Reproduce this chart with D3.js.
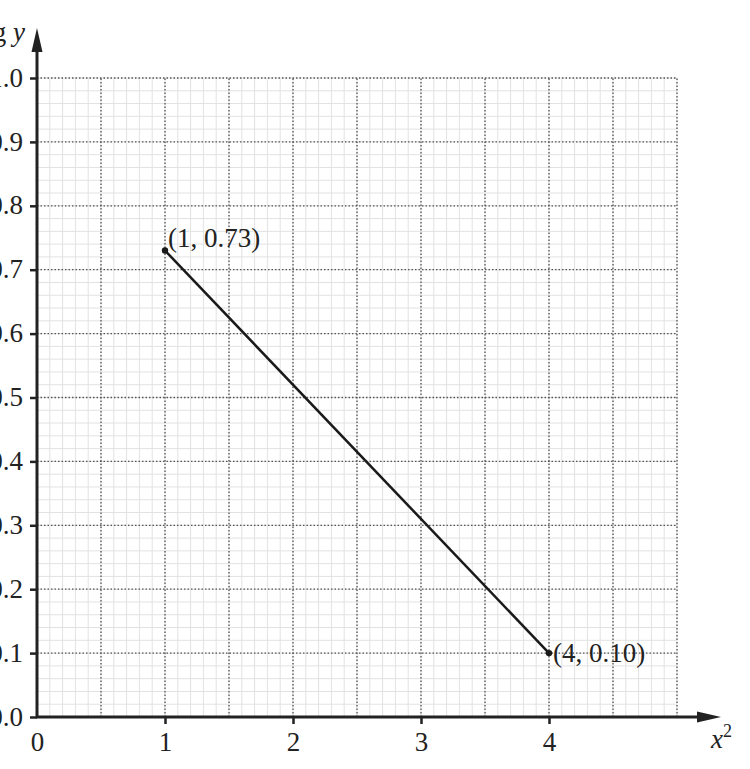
<!DOCTYPE html>
<html>
<head>
<meta charset="utf-8">
<script src="https://cdn.jsdelivr.net/npm/d3@7"></script>
<style>
  body { margin: 0; background: #fff; }
  svg { display: block; }
  text { font-family: "Liberation Serif", "Times New Roman", serif; fill: #222; }
</style>
</head>
<body>
<div id="chart"></div>
<script>
// values
var xTicks = [0, 1, 2, 3, 4];
var yTicks = [0, 0.1, 0.2, 0.3, 0.4, 0.5, 0.6, 0.7, 0.8, 0.9, 1.0];
var lineX = [1, 4];
var lineY = [0.73, 0.10];
var pointLabels = ["(1, 0.73)", "(4, 0.10)"];
var xMax = 5;
var yMax = 1;

var svgWidth = 750;
var svgHeight = 769;

var svg = d3.select("#chart").append("svg")
    .attr("width", svgWidth)
    .attr("height", svgHeight);

// scales, origin sits near the left edge so the leading "0" of y labels is cut off
var xScale = d3.scaleLinear().domain([0, xMax]).range([37, 677]);
var yScale = d3.scaleLinear().domain([0, yMax]).range([717, 78]);

// minor grid: every 0.1 in x, every 0.02 in y
var minorX = d3.range(0, 51).map(d => d / 10);
var minorY = d3.range(0, 51).map(d => d / 50);
var grid = svg.append("g");

grid.selectAll(".mx").data(minorX).enter().append("line")
    .attr("x1", d => xScale(d)).attr("x2", d => xScale(d))
    .attr("y1", yScale(0)).attr("y2", yScale(yMax))
    .attr("stroke", "#e2e2e2").attr("stroke-width", 1);

grid.selectAll(".my").data(minorY).enter().append("line")
    .attr("y1", d => yScale(d)).attr("y2", d => yScale(d))
    .attr("x1", xScale(0)).attr("x2", xScale(xMax))
    .attr("stroke", "#e2e2e2").attr("stroke-width", 1);

// major dotted grid: every 0.5 in x, every 0.1 in y
var majorX = d3.range(1, 11).map(d => d / 2);
grid.selectAll(".Mx").data(majorX).enter().append("line")
    .attr("x1", d => xScale(d)).attr("x2", d => xScale(d))
    .attr("y1", yScale(0)).attr("y2", yScale(yMax))
    .attr("stroke", "#555").attr("stroke-width", 1.3)
    .attr("stroke-dasharray", "1.5,2");

grid.selectAll(".My").data(yTicks.slice(1)).enter().append("line")
    .attr("y1", d => yScale(d)).attr("y2", d => yScale(d))
    .attr("x1", xScale(0)).attr("x2", xScale(xMax))
    .attr("stroke", "#555").attr("stroke-width", 1.3)
    .attr("stroke-dasharray", "1.5,2");

// axes
var xAxis = d3.axisBottom(xScale).tickValues(xTicks).tickSize(7).tickSizeOuter(0)
    .tickFormat(d3.format("d"));
var yAxis = d3.axisLeft(yScale).tickValues(yTicks).tickSize(7).tickSizeOuter(0)
    .tickFormat(d3.format(".1f"));

var gx = svg.append("g")
    .attr("transform", `translate(0, ${yScale(0)})`)
    .call(xAxis);
gx.select(".domain").remove();
gx.selectAll(".tick line").attr("stroke", "#222").attr("stroke-width", 2.5);
gx.selectAll(".tick").filter(d => d == 0).select("line").remove();
gx.selectAll(".tick text")
    .attr("font-size", 27).attr("dy", 0).attr("y", 34);

var gy = svg.append("g")
    .attr("transform", `translate(${xScale(0)}, 0)`)
    .call(yAxis);
gy.select(".domain").remove();
gy.selectAll(".tick line").attr("stroke", "#222").attr("stroke-width", 2.5);
gy.selectAll(".tick text")
    .attr("font-size", 27).attr("x", -14).attr("dy", "0.3em");

// axis lines with arrow heads
svg.append("line")
    .attr("x1", xScale(0) - 1).attr("x2", 700)
    .attr("y1", yScale(0)).attr("y2", yScale(0))
    .attr("stroke", "#222").attr("stroke-width", 3);
svg.append("path")
    .attr("d", `M721,${yScale(0)} L697,${yScale(0) - 5.5} L697,${yScale(0) + 5.5} Z`)
    .attr("fill", "#222");

svg.append("line")
    .attr("x1", xScale(0)).attr("x2", xScale(0))
    .attr("y1", yScale(0) + 1).attr("y2", 48)
    .attr("stroke", "#222").attr("stroke-width", 3);
svg.append("path")
    .attr("d", `M${xScale(0)},28 L${xScale(0) - 5.5},52 L${xScale(0) + 5.5},52 Z`)
    .attr("fill", "#222");

// axis titles
var yTitle = svg.append("text")
    .attr("x", 25).attr("y", 41)
    .attr("text-anchor", "end")
    .attr("font-size", 27);
yTitle.append("tspan").text("lg ");
yTitle.append("tspan").attr("font-style", "italic").text("y");

var xTitle = svg.append("text")
    .attr("x", 711).attr("y", 748)
    .attr("font-size", 27);
xTitle.append("tspan").attr("font-style", "italic").text("x");
xTitle.append("tspan").attr("font-size", 18).attr("dy", -11).text("2");

// the straight line and its end points
var pts = lineX.map((d, i) => ({x: d, y: lineY[i], label: pointLabels[i]}));

svg.append("path")
    .datum(pts)
    .attr("d", d3.line().x(d => xScale(d.x)).y(d => yScale(d.y)))
    .attr("fill", "none")
    .attr("stroke", "#1a1a1a")
    .attr("stroke-width", 2.5);

svg.selectAll(".pt").data(pts).enter().append("circle")
    .attr("cx", d => xScale(d.x)).attr("cy", d => yScale(d.y))
    .attr("r", 3.2).attr("fill", "#1a1a1a");

svg.selectAll(".lbl").data(pts).enter().append("text")
    .attr("x", (d, i) => xScale(d.x) + (i == 0 ? 3 : 4))
    .attr("y", (d, i) => yScale(d.y) + (i == 0 ? -4 : 9))
    .attr("font-size", 27)
    .text(d => d.label);
</script>
</body>
</html>
